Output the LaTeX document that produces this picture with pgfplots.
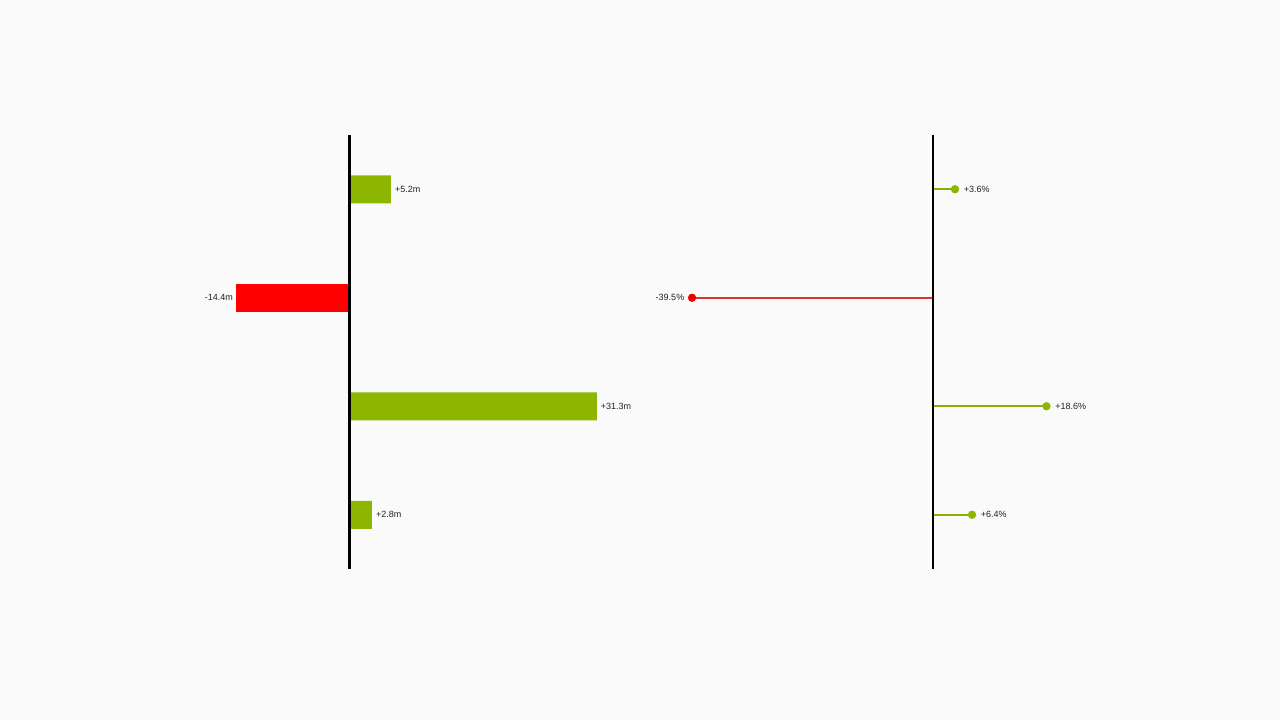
\documentclass[border=0pt]{standalone}
\usepackage{fontspec}
\setmainfont{Liberation Sans}
\usepackage{pgfplots}
\usepackage{pgfplotstable}
\pgfplotsset{compat=1.18}

\definecolor{bg}{HTML}{FAFAFA}
\definecolor{grn}{HTML}{8DB600}
\definecolor{grnstem}{HTML}{8DB000}
\definecolor{rd}{HTML}{FF0000}
\definecolor{rdstem}{HTML}{E03030}
\definecolor{lbl}{HTML}{222222}

% absolute values (m) by row
\pgfplotstableread{
row val
0 5.2
2 31.3
3 2.8
}\absPos
\pgfplotstableread{
row val
1 -14.4
}\absNeg
% relative values (%)
\pgfplotstableread{
row val
0 3.6
2 18.6
3 6.4
}\relPos
\pgfplotstableread{
row val
1 -39.5
}\relNeg

\pgfplotsset{
  dev/.style={
    scale only axis,
    height=434pt,
    ymin=-0.5, ymax=3.5, y dir=reverse,
    enlargelimits=false,
    axis x line=none,
    axis y line=middle,
    axis on top,
    axis line style={-, line width=2.8pt, black},
    xtick=\empty, ytick=\empty,
    clip=false,
    /pgf/number format/assume math mode=true,
    every node near coord/.append style={font=\fontsize{9}{10}\selectfont, text=lbl, inner sep=0pt},
  },
}

\begin{document}
\begin{tikzpicture}
\fill[bg] (0,0) rectangle (1280pt,720pt);

% absolute deviations
\begin{axis}[dev,
  at={(192pt,151pt)}, anchor=south west,
  width=473.4pt, xmin=-20, xmax=40,
  xbar, bar width=28pt, bar shift=0pt,
  nodes near coords={\pgfmathprintnumber[showpos,fixed,precision=1,fixed zerofill]{\pgfplotspointmeta}m},
  point meta=x,
]
\addplot[fill=grn, draw=none,
  every node near coord/.append style={anchor=west, xshift=4pt}]
  table[x=val, y=row] {\absPos};
\addplot[fill=rd, draw=none,
  every node near coord/.append style={anchor=east, xshift=-3pt}]
  table[x=val, y=row] {\absNeg};
\end{axis}

% relative deviations
\begin{axis}[dev,
  at={(628pt,151pt)}, anchor=south west,
  width=488pt, xmin=-50, xmax=30,
  nodes near coords={\pgfmathprintnumber[showpos,fixed,precision=1,fixed zerofill]{\pgfplotspointmeta}\%},
  point meta=x,
]
\addplot[xcomb, draw=grnstem, line width=1.6pt,
  mark=*, mark size=3.3pt, mark options={fill=grn, draw=grn},
  every node near coord/.append style={anchor=west, xshift=8pt}]
  table[x=val, y=row] {\relPos};
\addplot[xcomb, draw=rdstem, line width=1.6pt,
  mark=*, mark size=3.3pt, mark options={fill=rd!92!black, draw=rd!92!black},
  every node near coord/.append style={anchor=east, xshift=-7pt}]
  table[x=val, y=row] {\relNeg};
\end{axis}
\end{tikzpicture}
\end{document}
